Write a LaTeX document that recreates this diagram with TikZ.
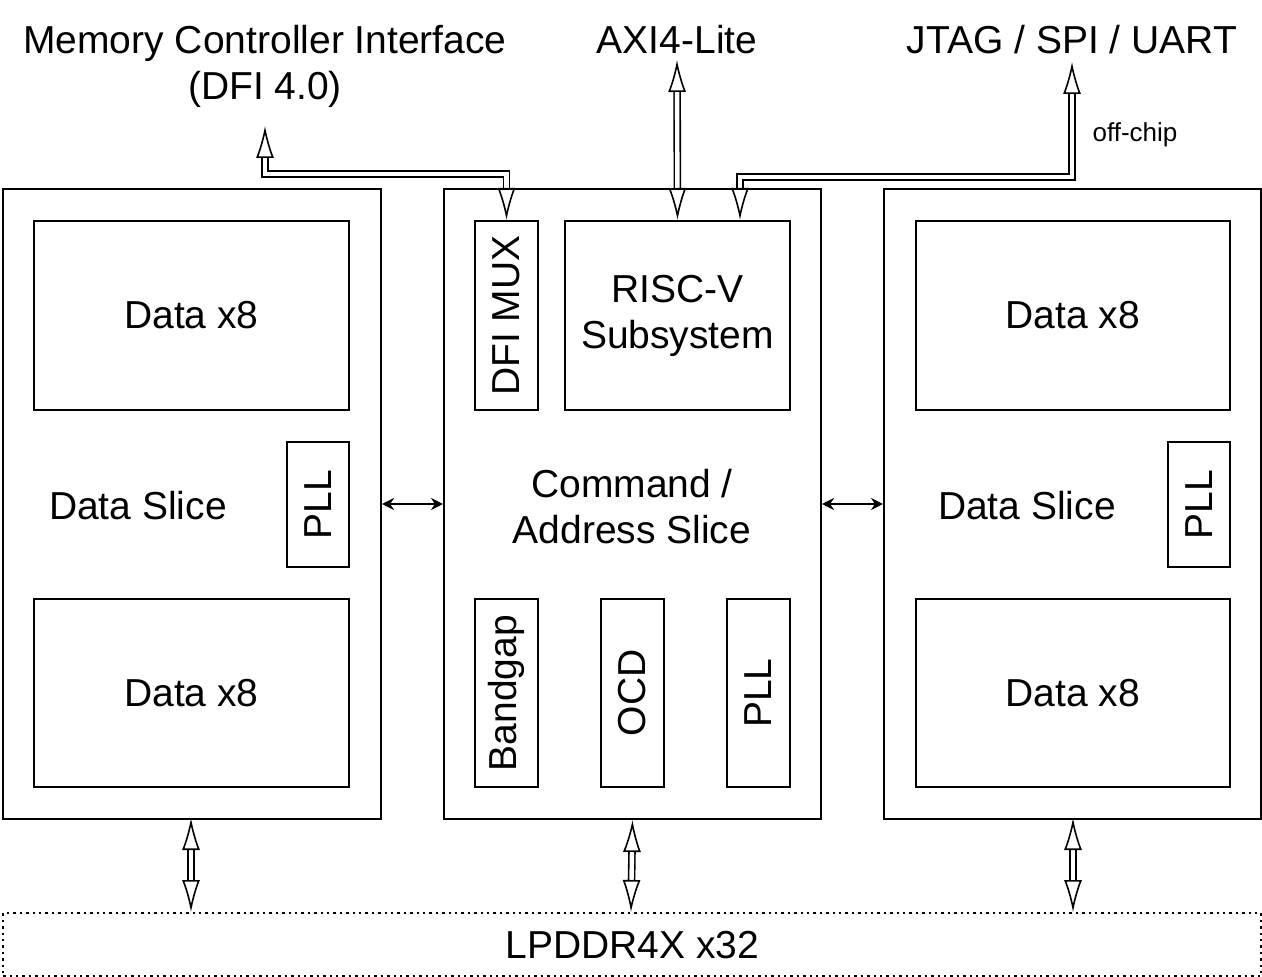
\documentclass[tikz,border=0pt]{standalone}
\usepackage{fontspec}
\setmainfont{Liberation Sans}
\usetikzlibrary{arrows.meta}
\tikzset{
  slice/.style = {draw, line width=1pt, anchor=north west, inner sep=0pt},
  block/.style = {draw, line width=1pt, anchor=north west, inner sep=0pt, align=center},
  lbl/.style = {font=\fontsize{19.5}{23}\selectfont, align=center},
  bus/.style = {double, double distance=2.2pt, line width=0.8pt,
    {Latex[open,length=16pt,width=9pt,line width=0.8pt]}-{Latex[open,length=16pt,width=9pt,line width=0.8pt]}},
  link/.style = {line width=1pt, {Stealth[length=6pt,width=6pt]}-{Stealth[length=6pt,width=6pt]}}
}
\begin{document}
\begin{tikzpicture}[x=0.5pt, y=-0.5pt]
  \useasboundingbox (0,0) rectangle (1262,977);

  % Slices
  \node [slice, minimum width=189pt, minimum height=315pt] (lslice) at (2,188) {};
  \node [slice, minimum width=188.5pt, minimum height=315pt] (cslice) at (443,188) {};
  \node [slice, minimum width=188.5pt, minimum height=315pt] (rslice) at (883,188) {};

  % Left data slice
  \node [block, lbl, minimum width=157.5pt, minimum height=94.5pt] (ldtop) at (33,220) {Data x8};
  \node [block, lbl, minimum width=157.5pt, minimum height=94pt] (ldbot) at (33,598) {Data x8};
  \node [block, minimum width=31pt, minimum height=62.5pt] (lpll) at (286,441) {};
  \node [lbl, rotate=90] at (lpll.center) {PLL};
  \node [lbl] (ltxt) at (138,506) {Data Slice};

  % Right data slice
  \node [block, lbl, minimum width=157pt, minimum height=94.5pt] (rdtop) at (915,220) {Data x8};
  \node [block, lbl, minimum width=157pt, minimum height=94pt] (rdbot) at (915,598) {Data x8};
  \node [block, minimum width=31pt, minimum height=62.5pt] (rpll) at (1167,441) {};
  \node [lbl, rotate=90] at (rpll.center) {PLL};
  \node [lbl] (rtxt) at (1027,506) {Data Slice};

  % Command / address slice
  \node [block, minimum width=31.5pt, minimum height=94.5pt] (dfimux) at (474,220) {};
  \node [lbl, rotate=90] at (dfimux.center) {DFI MUX};
  \node [block, lbl, minimum width=112.5pt, minimum height=94.5pt] (riscv) at (564,220) {RISC-V\\Subsystem};
  \node [lbl] (ctxt) at (632,507) {Command /\\Address Slice};
  \node [block, minimum width=31.5pt, minimum height=94pt] (bandgap) at (474,598) {};
  \node [lbl, rotate=90] at (bandgap.center) {Bandgap};
  \node [block, minimum width=31.5pt, minimum height=94pt] (ocd) at (600,598) {};
  \node [lbl, rotate=90] at (ocd.center) {OCD};
  \node [block, minimum width=31.5pt, minimum height=94pt] (cpll) at (726,598) {};
  \node [lbl, rotate=90] at (cpll.center) {PLL};

  % Memory
  \node [draw, dotted, line width=1.2pt, anchor=north west, minimum width=629pt, minimum height=31.5pt] (mem) at (2,912) {};
  \node [lbl] at (mem.center) {LPDDR4X x32};

  % External interfaces
  \node [lbl] (mcitxt) at (265,66) {Memory Controller Interface\\(DFI 4.0)};
  \node [lbl] (axitxt) at (677,40) {AXI4-Lite};
  \node [lbl] (jtagtxt) at (1072,40) {JTAG / SPI / UART};
  \node [font=\fontsize{13}{15}\selectfont] (offchip) at (1135,135) {off-chip};
  \coordinate (mci) at (265,126);
  \coordinate (axi) at (677,60);
  \coordinate (jtag) at (1072,62);

  % Connections
  \draw [bus] (mci) -- (265,174) -| (dfimux.north);
  \draw [bus] (axi) -- (riscv.north);
  \draw [bus] (jtag) -- (1072,177) -| (740,220);
  \draw [link] (lslice.east) -- (cslice.west);
  \draw [link] (cslice.east) -- (rslice.west);
  \draw [bus] (191,818) -- (191,912);
  \draw [bus] (cslice.south) -- (631,912);
  \draw [bus] (1073,818) -- (1073,912);
\end{tikzpicture}
\end{document}
